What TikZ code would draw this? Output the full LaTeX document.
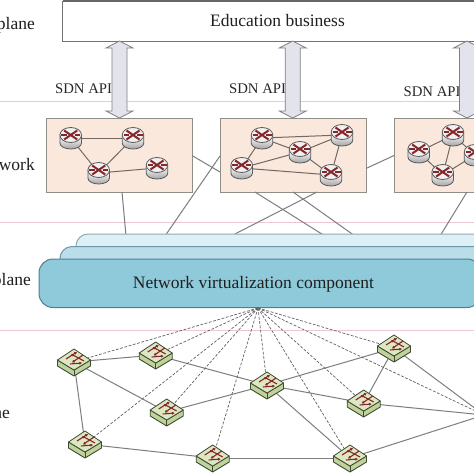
\documentclass[tikz,border=0pt]{standalone}
\usepackage{fontspec}
\setmainfont{Liberation Serif}
\usetikzlibrary{arrows.meta}
\definecolor{pinkline}{HTML}{EDC9CF}
\definecolor{linkgray}{HTML}{7E7E7E}
\definecolor{boxfill}{HTML}{FAE8DC}
\definecolor{boxedge}{HTML}{8F8F88}
\definecolor{xred}{HTML}{84262A}
\definecolor{cloudA}{HTML}{8FCADB}
\definecolor{cloudB}{HTML}{B9DEEA}
\definecolor{cloudC}{HTML}{DDF0F6}
\definecolor{edgeA}{HTML}{4F7E90}
\definecolor{edgeB}{HTML}{6F97A5}
\definecolor{edgeC}{HTML}{8FA9B2}
\definecolor{swtop}{HTML}{DDE8C2}
\definecolor{swside}{HTML}{BFD39A}
\definecolor{swedge}{HTML}{3E4A33}
\definecolor{apifill}{HTML}{E3E3EC}
\tikzset{
  ptnode/.style={inner sep=0pt,minimum size=0pt,outer sep=0pt},
  lab/.style={inner sep=0pt,anchor=base,text=black!88,font=\fontsize{17.5}{20}\selectfont},
  labr/.style={inner sep=0pt,anchor=base east,text=black!88,font=\fontsize{17.5}{20}\selectfont},
  apilab/.style={inner sep=0pt,anchor=base west,text=black!85,font=\fontsize{14.7}{17}\selectfont},
  sepline/.style={pinkline,line width=0.9pt},
  linkline/.style={linkgray,line width=1pt},
  ctrlline/.style={black!62,line width=0.7pt,dash pattern=on 2.8pt off 1.6pt},
  domainbox/.style={draw=boxedge,fill=boxfill,line width=0.9pt,inner sep=0pt,anchor=north west},
  routerpic/.pic={
    \path[draw=black!65,line width=0.8pt,top color=white,bottom color=black!35]
      (-10.8,-2) -- (-10.8,5) arc[start angle=180,end angle=0,x radius=10.8,y radius=6] -- (10.8,-2) -- cycle;
    \path[draw=black!65,line width=0.8pt,fill=black!6] (0,-3) ellipse[x radius=10.8,y radius=7.5];
    \draw[xred,line width=2pt] (-6.5,-7.5) -- (6.5,1.5) (6.5,-7.5) -- (-6.5,1.5);
    \draw[xred,line width=1.1pt] (-9.5,-3) -- (-4,-3) (9.5,-3) -- (4,-3);
  },
  switchpic/.pic={
    \path[draw=swedge,line width=0.9pt,fill=swside,line join=round]
      (-16.5,-2) -- (-16.5,4) -- (0,14) -- (16.5,4) -- (16.5,-2) -- (0,8) -- cycle;
    \draw[swedge,line width=0.8pt] (0,8) -- (0,14);
    \path[draw=swedge,line width=0.8pt,fill=swtop,line join=round]
      (-16.5,-2) -- (0,-13) -- (16.5,-2) -- (0,8) -- cycle;
    \draw[xred,line width=1.1pt,-{Latex[length=2.6pt,width=3.2pt]}] (-8,-3) -- (3,-10);
    \draw[xred,line width=1.1pt,-{Latex[length=2.6pt,width=3.2pt]}] (9,-7) -- (-2,0.5);
    \draw[xred,line width=1.1pt,-{Latex[length=2.6pt,width=3.2pt]}] (-4,2) -- (8,1);
    \draw[xred,line width=1.1pt,-{Latex[length=2.6pt,width=3.2pt]}] (10,-1) -- (-3,-8);
  },
  apiarrow/.pic={
    \path[draw=black!50,fill=apifill,line width=0.8pt,line join=miter]
      (0,0) -- (13.5,7) -- (7.5,7) -- (7.5,70) -- (13.5,70) -- (0,77) -- (-13.5,70) -- (-7.5,70) -- (-7.5,7) -- (-13.5,7) -- cycle;
  }
}
\begin{document}
\begin{tikzpicture}[x=1pt,y=-1pt]
\clip (0,0) rectangle (474,474);
\fill[white] (0,0) rectangle (474,474);
% separators
\node[ptnode] (sl1) at (0,101.5) {}; \node[ptnode] (sr1) at (474,101.5) {};
\node[ptnode] (sl2) at (0,222.5) {}; \node[ptnode] (sr2) at (474,222.5) {};
\node[ptnode] (sl3) at (0,330.5) {}; \node[ptnode] (sr3) at (474,330.5) {};
\draw[sepline] (sl1) -- (sr1);
\draw[sepline] (sl2) -- (sr2);
\draw[sepline] (sl3) -- (sr3);
% top bar
\draw[draw=black!55,fill=white,line width=0.9pt] (62.5,1) rectangle (490,41);
\draw[black!60,line width=2pt] (62.5,1) -- (474,1);
\node[lab] (edu) at (277.5,26.5) {Education business};
% left labels
\node[labr] (l1) at (35,29) {plane};
\node[labr] (l2) at (35,170) {work};
\node[labr] (l3) at (31,285) {plane};
\node[labr] (l4) at (10,418) {ne};
% SDN API labels
\node[apilab] (a1) at (55,93) {SDN API};
\node[apilab] (a2) at (229,93) {SDN API};
\node[apilab] (a3) at (403.5,96.5) {SDN API};
% API arrows
\pic at (119.5,41) {apiarrow};
\pic at (292.7,41) {apiarrow};
\pic at (467,41) {apiarrow};
% domains
\node[domainbox,minimum width=146pt,minimum height=74pt] (d1) at (46,118) {};
\node[domainbox,minimum width=146pt,minimum height=74pt] (d2) at (220,118) {};
\node[domainbox,minimum width=100pt,minimum height=74pt] (d3) at (394,118) {};
% cross links
\coordinate (c1) at (126,236); \coordinate (c2) at (165,236); \coordinate (c3) at (231,236);
\coordinate (c4) at (325,236); \coordinate (c5) at (355,236); \coordinate (c6) at (440,236);
\coordinate (b1) at (122,192); \coordinate (b2) at (220,156); \coordinate (b3) at (317,192);
\coordinate (b4) at (255,192); \coordinate (b5) at (293,192); \coordinate (b6) at (467,192);
\coordinate (e1) at (192,155.5); \coordinate (e2) at (220,172);
\coordinate (e3) at (366,168.5); \coordinate (e4) at (394,155.5);
\foreach \p/\q in {b1/c1,b2/c2,b3/c3,b4/c4,b5/c5,b6/c6,e1/e2,e3/e4}
  \draw[linkline] (\p) -- (\q);
% routers
\foreach \n/\x/\y in {r1/70.7/138,r2/133/138,r3/98.7/173,r4/157/168,
  q1/262/138,q2/342/135,q3/300/152,q4/241.7/168,q5/331/175,
  t1/418.7/152,t2/453/135,t3/442.7/175,t4/475/155}
  \node[ptnode] (\n) at (\x,\y) {};
\foreach \p/\q in {r1/r2,r1/r3,r2/r3,r3/r4,q1/q2,q1/q3,q1/q4,q3/q2,q3/q4,q4/q5,q3/q5,q2/q5,t1/t2,t1/t3,t2/t3,t2/t4,t3/t4}
  \draw[linkline,draw=black!55!boxfill] (\p) -- (\q);
\foreach \n in {r1,r2,r3,r4,q1,q2,q3,q4,q5,t1,t2,t3,t4}
  \pic at (\n) {routerpic};
% virtualization component
\draw[draw=edgeC,fill=cloudC,line width=1pt,rounded corners=12pt] (76,234) rectangle (490,290);
\draw[draw=edgeB,fill=cloudB,line width=1pt,rounded corners=12pt] (60,246.5) rectangle (490,300);
\draw[draw=edgeA,fill=cloudA,line width=1pt,rounded corners=14pt] (39,259) rectangle (481,307.5);
\node[lab] (nv) at (253.5,288.7) {Network virtualization component};
% switches
\foreach \n/\x/\y in {s1/74/362,s2/155.7/355,s3/166.7/412,s4/85/444,s5/212.7/458,
  s6/267/385,s7/394/348,s8/363.7/403,s9/350/458,s10/484/415}
  \node[ptnode] (\n) at (\x,\y) {};
\node[ptnode] (hub) at (258,308) {};
\foreach \p/\q in {s1/s2,s1/s3,s1/s4,s2/s6,s3/s6,s4/s5,s5/s9,s6/s7,s6/s8,s6/s9,s7/s8,s7/s10,s8/s10,s9/s10}
  \draw[linkline] (\p) -- (\q);
\foreach \q in {s1,s2,s3,s4,s5,s6,s7,s8,s9,s10}
  \draw[ctrlline] (hub) -- (\q);
\foreach \n in {s1,s2,s3,s4,s5,s6,s7,s8,s9}
  \pic at (\n) {switchpic};
\end{tikzpicture}
\end{document}
